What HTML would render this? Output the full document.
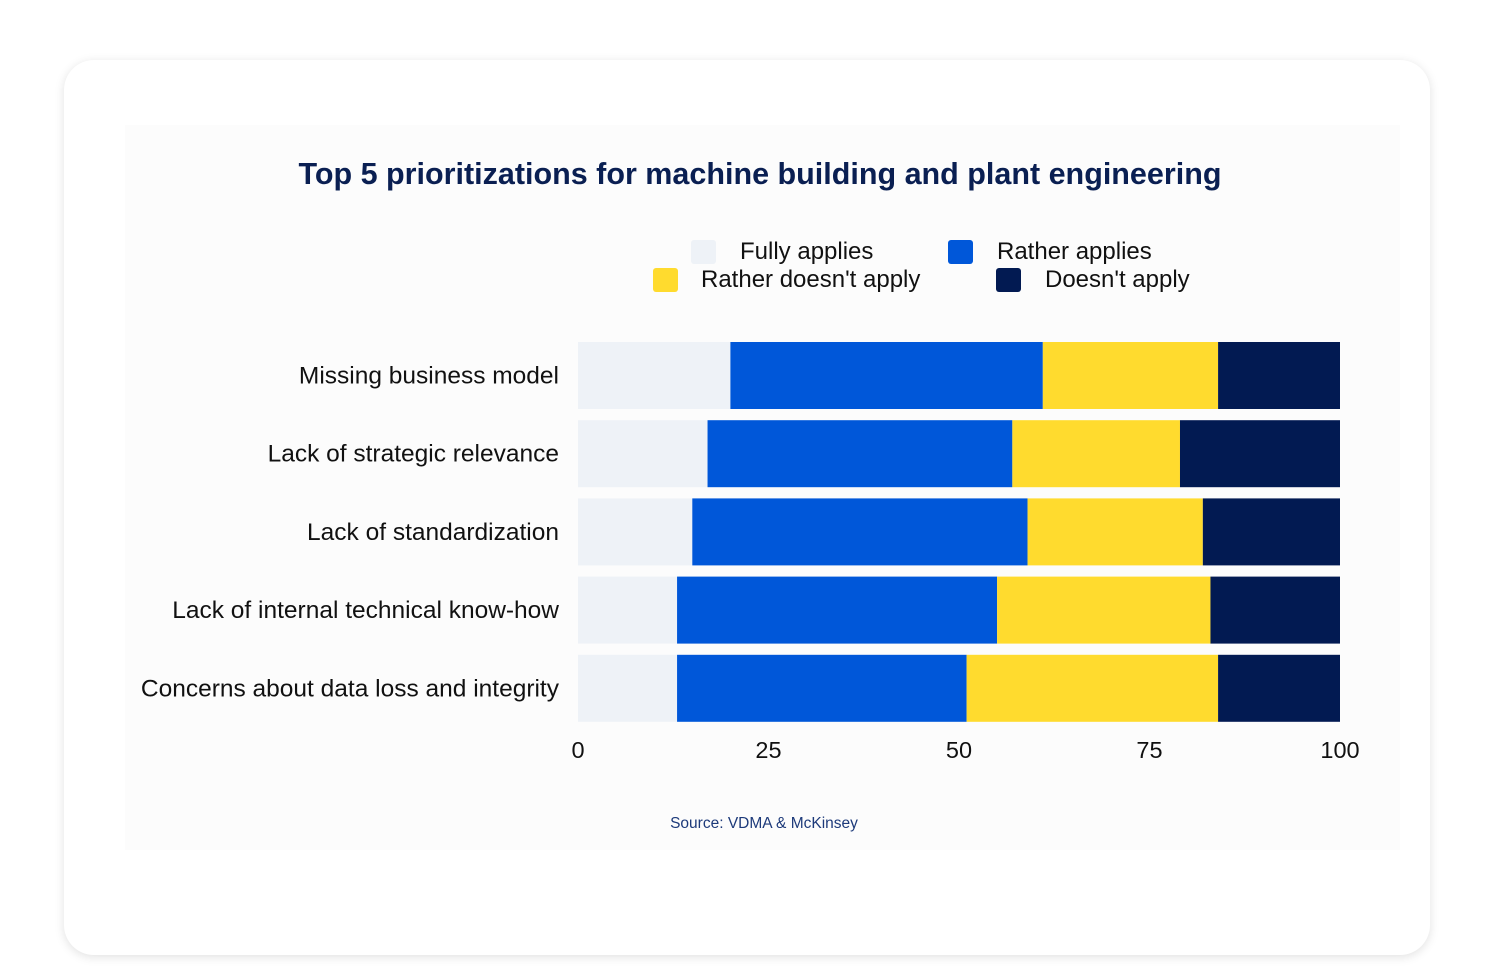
<!DOCTYPE html>
<html><head><meta charset="utf-8"><style>
body{margin:0;width:1486px;height:980px;background:#fff;font-family:"Liberation Sans",sans-serif;overflow:hidden;position:relative}
#card{position:absolute;left:64px;top:60px;width:1366px;height:895px;border-radius:30px;background:#fff;box-shadow:0 2px 10px rgba(0,0,0,0.12)}
#inner{position:absolute;left:125px;top:125px;width:1275px;height:725px;background:#fcfcfc}
svg{position:absolute;left:0;top:0}
</style></head><body>
<div id="card"></div>
<div id="inner"></div>
<svg id="chart" width="1486" height="980">
<text x="760" y="184" text-anchor="middle" font-size="30.5" font-weight="bold" fill="#0a1f52">Top 5 prioritizations for machine building and plant engineering</text>
<g id="legend"></g>
<g id="bars"></g>
<g id="axis"></g>
<text x="764" y="828" text-anchor="middle" font-size="15.5" fill="#1d3a7a">Source: VDMA &amp; McKinsey</text>
</svg>
<script>
const categories=["Missing business model","Lack of strategic relevance","Lack of standardization","Lack of internal technical know-how","Concerns about data loss and integrity"];
const seriesNames=["Fully applies","Rather applies","Rather doesn't apply","Doesn't apply"];
const fullyApplies=[20,17,15,13,13];
const ratherApplies=[41,40,44,42,38];
const ratherDoesnt=[23,22,23,28,33];
const doesntApply=[16,21,18,17,16];
const ticks=[0,25,50,75,100];
const colors=["#eef2f7","#0057d9","#ffdb2e","#021a52"];
const NS="http://www.w3.org/2000/svg";
const x=v=>578+v*7.62;
const yTop=i=>342+i*78.2;
const bh=67;
function mk(tag,attrs,parent){const e=document.createElementNS(NS,tag);for(const k in attrs)e.setAttribute(k,attrs[k]);parent.appendChild(e);return e;}
const bars=document.getElementById('bars');
const series=[fullyApplies,ratherApplies,ratherDoesnt,doesntApply];
categories.forEach((c,i)=>{
  const t=mk('text',{x:559,y:yTop(i)+bh/2+8,'text-anchor':'end','font-size':24.5,fill:'#111'},bars);
  t.textContent=c;
  
  
  let acc=0;
  series.forEach((s,j)=>{
    const r=mk('rect',{x:x(acc),y:yTop(i),width:x(acc+s[i])-x(acc),height:bh,fill:colors[j]},bars);
    
    
    acc+=s[i];
  });
});
const axis=document.getElementById('axis');
ticks.forEach(v=>{
  const t=mk('text',{x:x(v),y:758,'text-anchor':'middle','font-size':23.5,fill:'#111'},axis);
  t.textContent=v;
  
  
});
const leg=document.getElementById('legend');
const lp=[[691,240,740],[948,240,997],[653,268,701],[996,268,1045]];
seriesNames.forEach((n,j)=>{
  const r=mk('rect',{x:lp[j][0],y:lp[j][1],width:25,height:24,rx:3,fill:colors[j]},leg);
  
  
  const t=mk('text',{x:lp[j][2],y:lp[j][1]+19,'font-size':24,fill:'#111'},leg);
  t.textContent=n;
  
  
});
</script>
</body></html>
